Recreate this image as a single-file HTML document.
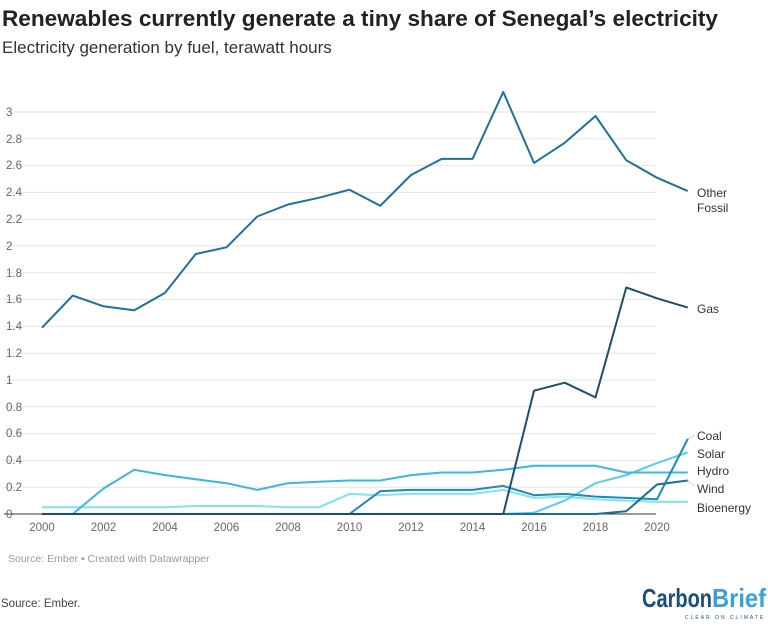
<!DOCTYPE html>
<html><head><meta charset="utf-8"><style>
body{margin:0;width:768px;height:623px;background:#fff;font-family:"Liberation Sans",sans-serif;overflow:hidden}
</style></head><body>
<svg width="768" height="623" xmlns="http://www.w3.org/2000/svg" font-family="Liberation Sans, sans-serif">
<text x="2" y="26" font-size="22.5" font-weight="bold" fill="#222" textLength="716" lengthAdjust="spacingAndGlyphs">Renewables currently generate a tiny share of Senegal’s electricity</text>
<text x="2" y="53" font-size="17" fill="#333">Electricity generation by fuel, terawatt hours</text>
<g stroke="#e6e6e6" stroke-width="1">
<line x1="4" x2="656" y1="487.2" y2="487.2"/><line x1="4" x2="656" y1="460.4" y2="460.4"/><line x1="4" x2="656" y1="433.6" y2="433.6"/><line x1="4" x2="656" y1="406.8" y2="406.8"/><line x1="4" x2="656" y1="380" y2="380"/><line x1="4" x2="656" y1="353.2" y2="353.2"/><line x1="4" x2="656" y1="326.4" y2="326.4"/><line x1="4" x2="656" y1="299.6" y2="299.6"/><line x1="4" x2="656" y1="272.8" y2="272.8"/><line x1="4" x2="656" y1="246" y2="246"/><line x1="4" x2="656" y1="219.2" y2="219.2"/><line x1="4" x2="656" y1="192.4" y2="192.4"/><line x1="4" x2="656" y1="165.6" y2="165.6"/><line x1="4" x2="656" y1="138.8" y2="138.8"/><line x1="4" x2="656" y1="112" y2="112"/>
</g>
<line x1="4" x2="656" y1="514" y2="514" stroke="#333" stroke-width="1"/>
<g font-size="11.5" fill="#666">
<text x="6" y="491">0.2</text><text x="6" y="464">0.4</text><text x="6" y="437">0.6</text><text x="6" y="411">0.8</text><text x="6" y="384">1</text><text x="6" y="357">1.2</text><text x="6" y="330">1.4</text><text x="6" y="303">1.6</text><text x="6" y="277">1.8</text><text x="6" y="250">2</text><text x="6" y="223">2.2</text><text x="6" y="196">2.4</text><text x="6" y="169">2.6</text><text x="6" y="143">2.8</text><text x="6" y="116">3</text><text x="6" y="518">0</text>
</g>
<g font-size="11.5" fill="#666" text-anchor="middle">
<text x="42" y="531">2000</text><text x="103.5" y="531">2002</text><text x="165" y="531">2004</text><text x="226.5" y="531">2006</text><text x="288" y="531">2008</text><text x="349.5" y="531">2010</text><text x="411" y="531">2012</text><text x="472.5" y="531">2014</text><text x="534" y="531">2016</text><text x="595.5" y="531">2018</text><text x="657" y="531">2020</text>
</g>
<g fill="none" stroke-width="2" stroke-linejoin="round">
<polyline stroke="#7fe3f5" points="42,507.3 72.75,507.3 103.5,507.3 134.25,507.3 165,507.3 195.75,506 226.5,506 257.25,506 288,507.3 318.75,507.3 349.5,493.9 380.25,495.2 411,493.9 441.75,493.9 472.5,493.9 503.25,489.9 534,497.9 564.75,496.6 595.5,499.3 626.25,500.6 657,501.9 687.75,501.9"/>
<polyline stroke="#5ccbf0" points="42,514 503.25,514 534,512.7 564.75,500.6 595.5,483.2 626.25,475.1 657,463.1 687.75,452.4"/>
<polyline stroke="#3cb5e0" points="42,514 72.75,514 103.5,488.5 134.25,469.8 165,475.1 195.75,479.2 226.5,483.2 257.25,489.9 288,483.2 318.75,481.8 349.5,480.5 380.25,480.5 411,475.1 441.75,472.5 472.5,472.5 503.25,469.8 534,465.8 564.75,465.8 595.5,465.8 626.25,472.5 657,472.5 687.75,472.5"/>
<polyline stroke="#1a8db5" points="349.5,514 380.25,491.2 411,489.9 441.75,489.9 472.5,489.9 503.25,485.9 534,495.2 564.75,493.9 595.5,496.6 626.25,497.9 657,499.3 687.75,439"/>
<polyline stroke="#1b6f93" points="42,514 595.5,514 626.25,511.3 657,484.5 687.75,480.5"/>
<polyline stroke="#1d4e6e" points="42,514 503.25,514 534,390.7 564.75,382.7 595.5,397.4 626.25,287.5 657,298.3 687.75,307.6"/>
<polyline stroke="#1b7399" points="42,327.7 72.75,295.6 103.5,306.3 134.25,310.3 165,292.9 195.75,254 226.5,247.3 257.25,216.5 288,204.5 318.75,197.8 349.5,189.7 380.25,205.8 411,175 441.75,158.9 472.5,158.9 503.25,91.9 534,162.9 564.75,142.8 595.5,116 626.25,160.2 657,177.7 687.75,191.1"/>
</g>
<g stroke="#3cb5e0" stroke-width="1" stroke-dasharray="1,2">
<line x1="688" y1="439" x2="695" y2="435"/><line x1="688" y1="481" x2="695" y2="486"/>
</g>
<g font-size="12" fill="#333">
<text x="697" y="197">Other</text><text x="697" y="212">Fossil</text>
<text x="697" y="313">Gas</text>
<text x="697" y="440">Coal</text><text x="697" y="458">Solar</text><text x="697" y="475">Hydro</text><text x="697" y="493">Wind</text><text x="697" y="512">Bioenergy</text>
</g>
<text x="8" y="562" font-size="10.5" fill="#999">Source: Ember • Created with Datawrapper</text>
<text x="1" y="607" font-size="11.5" fill="#444">Source: Ember.</text>
<text x="642" y="607" font-size="26" font-weight="bold" fill="#1b4f7a" textLength="70" lengthAdjust="spacingAndGlyphs">Carbon</text>
<text x="712" y="607" font-size="26" font-weight="bold" fill="#3aa0dd" textLength="54" lengthAdjust="spacingAndGlyphs">Brief</text>
<text x="685" y="619" font-size="5" fill="#1b4f7a" letter-spacing="2">CLEAR ON CLIMATE</text>
</svg>
</body></html>
